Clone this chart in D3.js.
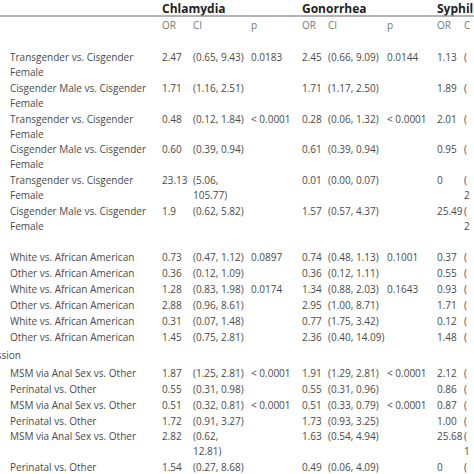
<!DOCTYPE html>
<html>
<head>
<meta charset="utf-8">
<script src="https://cdn.jsdelivr.net/npm/d3@7"></script>
<style>
body { margin: 0; background: #fff; }
text { font-family: "Open Sans", sans-serif; }
</style>
</head>
<body>
<div id="table"></div>
<script>
var diseases = ["Chlamydia", "Gonorrhea", "Syphilis"];
var subHeads = ["OR", "CI", "p"];

// each row: label lines, then Chlamydia OR/CI/p, Gonorrhea OR/CI/p, Syphilis OR/CI
var labels = [
    ["Transgender vs. Cisgender", "Female"],
    ["Cisgender Male vs. Cisgender", "Female"],
    ["Transgender vs. Cisgender", "Female"],
    ["Cisgender Male vs. Cisgender", "Female"],
    ["Transgender vs. Cisgender", "Female"],
    ["Cisgender Male vs. Cisgender", "Female"],
    ["White vs. African American"],
    ["Other vs. African American"],
    ["White vs. African American"],
    ["Other vs. African American"],
    ["White vs. African American"],
    ["Other vs. African American"],
    ["MSM via Anal Sex vs. Other"],
    ["Perinatal vs. Other"],
    ["MSM via Anal Sex vs. Other"],
    ["Perinatal vs. Other"],
    ["MSM via Anal Sex vs. Other"],
    ["Perinatal vs. Other"]
];
var chlOR = ["2.47", "1.71", "0.48", "0.60", "23.13", "1.9", "0.73", "0.36", "1.28", "2.88", "0.31", "1.45", "1.87", "0.55", "0.51", "1.72", "2.82", "1.54"];
var chlCI = [["(0.65, 9.43)"], ["(1.16, 2.51)"], ["(0.12, 1.84)"], ["(0.39, 0.94)"], ["(5.06,", "105.77)"], ["(0.62, 5.82)"],
    ["(0.47, 1.12)"], ["(0.12, 1.09)"], ["(0.83, 1.98)"], ["(0.96, 8.61)"], ["(0.07, 1.48)"], ["(0.75, 2.81)"],
    ["(1.25, 2.81)"], ["(0.31, 0.98)"], ["(0.32, 0.81)"], ["(0.91, 3.27)"], ["(0.62,", "12.81)"], ["(0.27, 8.68)"]];
var chlP = ["0.0183", "", "< 0.0001", "", "", "", "0.0897", "", "0.0174", "", "", "", "< 0.0001", "", "< 0.0001", "", "", ""];
var gonOR = ["2.45", "1.71", "0.28", "0.61", "0.01", "1.57", "0.74", "0.36", "1.34", "2.95", "0.77", "2.36", "1.91", "0.55", "0.51", "1.73", "1.63", "0.49"];
var gonCI = [["(0.66, 9.09)"], ["(1.17, 2.50)"], ["(0.06, 1.32)"], ["(0.39, 0.94)"], ["(0.00, 0.07)"], ["(0.57, 4.37)"],
    ["(0.48, 1.13)"], ["(0.12, 1.11)"], ["(0.88, 2.03)"], ["(1.00, 8.71)"], ["(1.75, 3.42)"], ["(0.40, 14.09)"],
    ["(1.29, 2.81)"], ["(0.31, 0.96)"], ["(0.33, 0.79)"], ["(0.93, 3.25)"], ["(0.54, 4.94)"], ["(0.06, 4.09)"]];
var gonP = ["0.0144", "", "< 0.0001", "", "", "", "0.1001", "", "0.1643", "", "", "", "< 0.0001", "", "< 0.0001", "", "", ""];
var sypOR = ["1.13", "1.89", "2.01", "0.95", "0", "25.49", "0.37", "0.55", "0.93", "1.71", "0.12", "1.48", "2.12", "0.86", "0.87", "1.00", "25.68", "0"];
var sypCI = [["("], ["("], ["("], ["("], ["(", "2"], ["(", "2"], ["("], ["("], ["("], ["("], ["("], ["("],
    ["("], ["("], ["("], ["("], ["(", "1"], ["("]];
var rowY = [57, 88, 119, 149, 180, 211, 257, 273, 289, 305, 321, 337, 373, 389, 405, 421, 436, 467];
var sectionLabel = {text: "Transmission", y: 355};

var width = 474, height = 474, lineH = 15;
var colX = {label: 10, cOR: 162, cCI: 193, cP: 251, gOR: 302, gCI: 328, gP: 387, sOR: 437, sCI: 464};

var svg = d3.select("#table").append("svg")
    .attr("width", width)
    .attr("height", height);

var ink = "#4a4a4a";

// top header
svg.selectAll("text.head")
    .data(diseases)
    .enter().append("text")
    .attr("class", "head")
    .attr("x", function (d, i) { return [colX.cOR, colX.gOR, colX.sOR][i]; })
    .attr("y", 9)
    .attr("dy", "0.35em")
    .style("font-size", "12px")
    .style("font-weight", "bold")
    .style("fill", "#222")
    .text(function (d) { return d; });

svg.append("line")
    .attr("x1", 0).attr("x2", width)
    .attr("y1", 16).attr("y2", 16)
    .style("stroke", "#9a9a9a")
    .style("stroke-width", 1.6);

var subX = [colX.cOR, colX.cCI, colX.cP, colX.gOR, colX.gCI, colX.gP, colX.sOR, colX.sCI];
var subText = subHeads.concat(subHeads).concat(["OR", "C"]);
svg.selectAll("text.sub")
    .data(subText)
    .enter().append("text")
    .attr("class", "sub")
    .attr("x", function (d, i) { return subX[i]; })
    .attr("y", 25)
    .attr("dy", "0.35em")
    .style("font-size", "10px")
    .style("fill", "#777")
    .text(function (d) { return d; });

function cell(x, lines, y) {
    svg.append("g").selectAll("text")
        .data(lines)
        .enter().append("text")
        .attr("x", x)
        .attr("y", function (d, i) { return y + i * lineH; })
        .attr("dy", "0.35em")
        .style("font-size", "10px")
        .style("fill", ink)
        .text(function (d) { return d; });
}

rowY.forEach(function (y, i) {
    cell(colX.label, labels[i], y);
    cell(colX.cOR, [chlOR[i]], y);
    cell(colX.cCI, chlCI[i], y);
    cell(colX.cP, [chlP[i]], y);
    cell(colX.gOR, [gonOR[i]], y);
    cell(colX.gCI, gonCI[i], y);
    cell(colX.gP, [gonP[i]], y);
    cell(colX.sOR, [sypOR[i]], y);
    cell(colX.sCI, sypCI[i], y);
});

svg.append("text")
    .attr("x", 21)
    .attr("y", sectionLabel.y)
    .attr("dy", "0.35em")
    .attr("text-anchor", "end")
    .style("font-size", "10px")
    .style("fill", ink)
    .text(sectionLabel.text);
</script>
</body>
</html>
